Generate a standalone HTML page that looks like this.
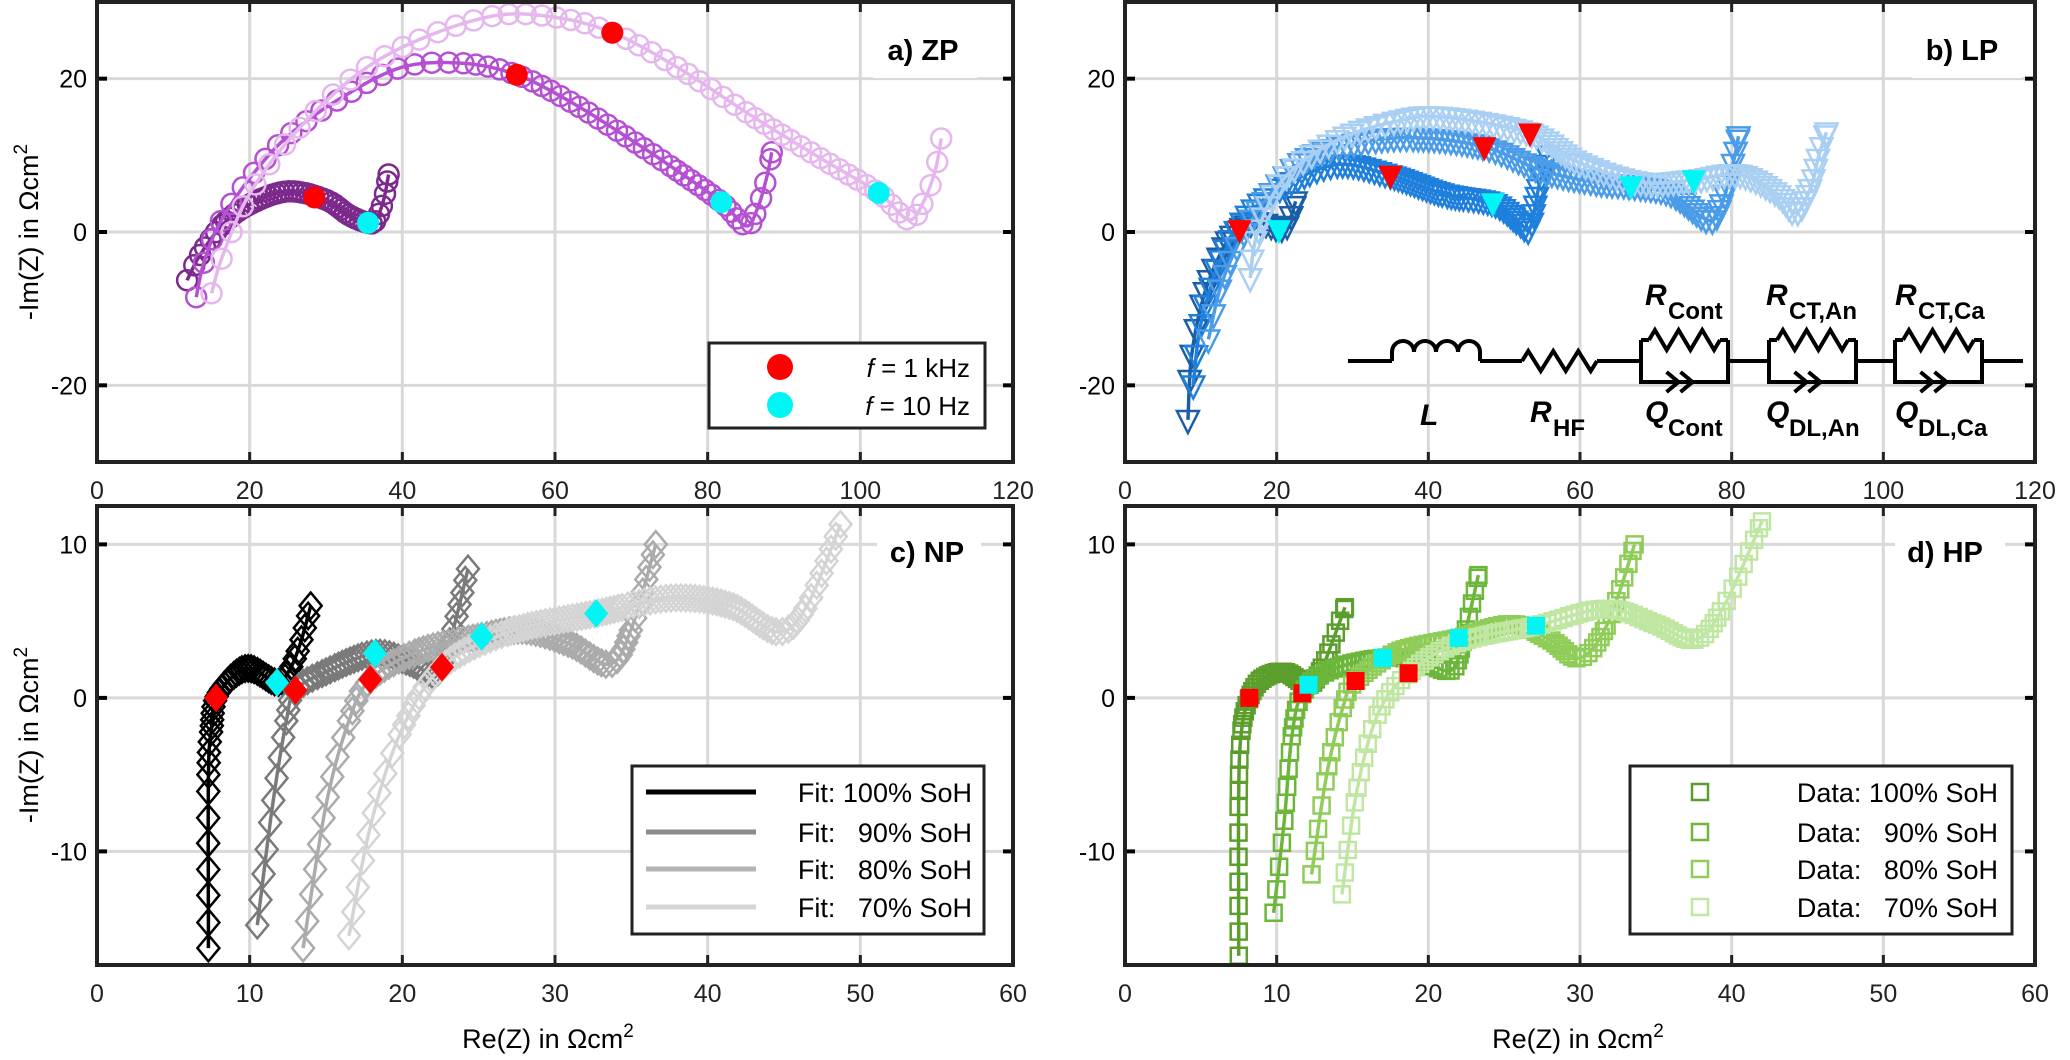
<!DOCTYPE html>
<html><head><meta charset="utf-8">
<style>
html,body{margin:0;padding:0;background:#fff;}
svg text{font-family:"Liberation Sans",Arial,sans-serif;}
</style></head>
<body>
<svg id="s" xmlns="http://www.w3.org/2000/svg" width="2070" height="1055" viewBox="0 0 2070 1055"></svg>
<script>
var out=[];
function P(L,R,T,B,x0,x1,y0,y1){return {L:L,R:R,T:T,B:B,x0:x0,x1:x1,y0:y0,y1:y1,
 X:function(x){return L+(x-x0)/(x1-x0)*(R-L);},Y:function(y){return B-(y-y0)/(y1-y0)*(B-T);}};}
var A=P(97,1013,2,462,0,120,-30,30), Bp=P(1125,2035,2,462,0,120,-30,30),
    C=P(97,1013,506,965,0,60,-17.4,12.5), D=P(1125,2035,506,965,0,60,-17.4,12.5);
function axes(p,xt,yt){
 var i;
 for(i=0;i<xt.length;i++){var x=p.X(xt[i]);
  if(xt[i]>p.x0&&xt[i]<p.x1) out.push('<line x1="'+x+'" y1="'+p.T+'" x2="'+x+'" y2="'+p.B+'" stroke="#d9d9d9" stroke-width="3"/>');}
 for(i=0;i<yt.length;i++){var y=p.Y(yt[i]);
  out.push('<line x1="'+p.L+'" y1="'+y+'" x2="'+p.R+'" y2="'+y+'" stroke="#d9d9d9" stroke-width="3"/>');}
}
function frame(p,xt,yt){
 var i,s='';
 for(i=0;i<xt.length;i++){var x=p.X(xt[i]);
  s+='<line x1="'+x+'" y1="'+p.B+'" x2="'+x+'" y2="'+(p.B-10)+'" stroke="#222" stroke-width="3"/>';
  s+='<line x1="'+x+'" y1="'+p.T+'" x2="'+x+'" y2="'+(p.T+10)+'" stroke="#222" stroke-width="3"/>';
  s+='<text x="'+x+'" y="'+(p.B+37)+'" font-size="25" text-anchor="middle" fill="#222">'+xt[i]+'</text>';}
 for(i=0;i<yt.length;i++){var y=p.Y(yt[i]);
  s+='<line x1="'+p.L+'" y1="'+y+'" x2="'+(p.L+10)+'" y2="'+y+'" stroke="#000" stroke-width="4"/>';
  s+='<line x1="'+p.R+'" y1="'+y+'" x2="'+(p.R-10)+'" y2="'+y+'" stroke="#000" stroke-width="4"/>';
  s+='<text x="'+(p.L-10)+'" y="'+(y+9)+'" font-size="25" text-anchor="end" fill="#000">'+yt[i]+'</text>';}
 s+='<rect x="'+p.L+'" y="'+p.T+'" width="'+(p.R-p.L)+'" height="'+(p.B-p.T)+'" fill="none" stroke="#222" stroke-width="4"/>';
 out.push(s);
}
function cr(pts,p,mul){
 var P2=pts.map(function(q){return [p.X(q[0]),p.Y(q[1]),(q[2]||5)*mul];});
 var res=[];
 for(var i=0;i<P2.length-1;i++){
  var p0=P2[Math.max(0,i-1)],p1=P2[i],p2=P2[i+1],p3=P2[Math.min(P2.length-1,i+2)];
  for(var k=0;k<40;k++){var t=k/40,t2=t*t,t3=t2*t;
   var x=0.5*((2*p1[0])+(-p0[0]+p2[0])*t+(2*p0[0]-5*p1[0]+4*p2[0]-p3[0])*t2+(-p0[0]+3*p1[0]-3*p2[0]+p3[0])*t3);
   var y=0.5*((2*p1[1])+(-p0[1]+p2[1])*t+(2*p0[1]-5*p1[1]+4*p2[1]-p3[1])*t2+(-p0[1]+3*p1[1]-3*p2[1]+p3[1])*t3);
   res.push([x,y,p1[2]]);}
 }
 var l=P2[P2.length-1];res.push([l[0],l[1],5]);
 return res;
}
function mk(type,x,y,col,fill,sz){
 var f=fill?fill:'none',sw=fill?0:2.5;
 if(type=='o')return '<circle cx="'+x.toFixed(1)+'" cy="'+y.toFixed(1)+'" r="'+sz+'" fill="'+f+'" stroke="'+col+'" stroke-width="'+sw+'"/>';
 var pts;
 if(type=='v')pts=[[x-sz,y-sz*0.8],[x+sz,y-sz*0.8],[x,y+sz*1.2]];
 if(type=='d')pts=[[x,y-sz*1.2],[x+sz,y],[x,y+sz*1.2],[x-sz,y]];
 if(type=='s')pts=[[x-sz,y-sz],[x+sz,y-sz],[x+sz,y+sz],[x-sz,y+sz]];
 return '<polygon points="'+pts.map(function(q){return q[0].toFixed(1)+','+q[1].toFixed(1);}).join(' ')+'" fill="'+f+'" stroke="'+col+'" stroke-width="'+sw+'"/>';
}
function series(p,pts,col,type,sz,mul){
 var d=cr(pts,p,mul||1),s='',acc=1e9;
 var path='M'+d.map(function(q){return q[0].toFixed(1)+','+q[1].toFixed(1);}).join('L');
 for(var i=0;i<d.length;i++){
  if(i>0)acc+=Math.hypot(d[i][0]-d[i-1][0],d[i][1]-d[i-1][1]);
  if(acc>=d[i][2]||i==d.length-1){s+=mk(type,d[i][0],d[i][1],col,null,sz);acc=0;}
 }
 out.push(s);
 out.push('<path d="'+path+'" fill="none" stroke="'+col+'" stroke-width="3.5"/>');
}
function hl(p,pts,type,col,sz){var s='';pts.forEach(function(q){s+=mk(type,p.X(q[0]),p.Y(q[1]),col,col,sz);});out.push(s);}

axes(A,[0,20,40,60,80,100,120],[-20,0,20]);
axes(Bp,[0,20,40,60,80,100,120],[-20,0,20]);
axes(C,[0,10,20,30,40,50,60],[-10,0,10]);
axes(D,[0,10,20,30,40,50,60],[-10,0,10]);

series(A,[[11.8,-6.3,16],[13.5,-3,9],[16.5,1,5],[20,3.6,4],[25,5.3,4],[30,4.2,4],[33,2.2,4],[35.5,1.2,4],[36.5,1.5,8],[37.5,4,12],[38.2,7.5]],'#7b2a8c','o',10);
series(A,[[13,-8.5,18],[14,-4,12],[16,1,10],[20,7,9],[25,12.5,9],[32,17.5,8],[40,21.5,8],[48,22,6],[55,20.5,5],[62,17,5],[70,12,5],[76,8,4],[81.8,3.9,4],[85,0.8,5],[86.5,3,8],[87.7,7,12],[88.4,10.4]],'#b550d3','o',10,2);
series(A,[[15,-8,18],[16.5,-3,14],[20,5,12],[26,13,11],[34,20.5,10],[42,25,9],[52,28.2,8],[60,28,7],[67.5,26,7],[76,21.5,6],[86,15,5],[95,9.5,5],[102.4,5.1,5],[106.3,1.6,6],[108.3,4,10],[109.8,8,12],[110.6,12.2]],'#e6b6ef','o',10,2);
hl(A,[[28.5,4.5],[55,20.5],[67.5,26]],'o','#ff0000',11);
hl(A,[[35.5,1.2],[81.8,3.9],[102.4,5.1]],'o','#00f5f5',11);

series(Bp,[[8.3,-24.5,40],[8.8,-16,25],[10.5,-8,12],[13,-2,7],[15,0.3,5],[17.5,1.3,5],[20.3,0.5,6],[21.5,1,10],[22.5,4]],'#1b5ea8','v',11);
series(Bp,[[9,-20,30],[10,-12,18],[12.5,-4,10],[16,2,8],[21,6,6],[28,8.8,5],[35,7.4,4],[42,5,4],[48.5,3.8,4],[52,1.2,5],[53.4,0.5,8],[54.6,6,12],[55.7,10]],'#1f7fdc','v',11);
series(Bp,[[11,-14,25],[13,-6,14],[17,2,10],[23,9,8],[30,11.5,6],[38,12.3,5],[47.4,11.1,5],[55,8,5],[62,6.5,5],[66.7,6,5],[72,5,5],[77,1.5,6],[78.8,4,10],[80.2,9,12],[80.9,12.5]],'#4a9ce8','v',11);
series(Bp,[[16.5,-6,18],[17.5,0,12],[21,7,10],[28,12,8],[36,14.5,6],[42,15,5],[53.4,12.9,5],[60,9,5],[68,6.5,5],[75,6.8,5],[81,7.5,5],[86,5,5],[88.5,2.5,6],[90.5,6,10],[91.5,10,12],[92.5,13]],'#a9cff2','v',11);
hl(Bp,[[15.1,0.3],[35,7.4],[47.4,11.1],[53.4,12.9]],'v','#ff0000',12);
hl(Bp,[[20.3,0.3],[48.5,3.8],[66.7,6],[75,6.8]],'v','#00f5f5',12);

series(C,[[7.3,-16.3,24],[7.3,-5,10],[7.5,-2,6],[7.8,0,4],[9,1.5,3],[10.1,1.9,3],[11.8,1,4],[12.6,1.8,8],[13.3,3.5,12],[14,6]],'#000','d',11);
series(C,[[10.5,-14.8,24],[11.5,-7,20],[12.4,-1.5,10],[13,0.5,5],[15,1.7,4],[18.2,2.9,4],[20.5,2.3,4],[22.2,1.6,6],[23.2,4,12],[24.3,8.4]],'#7a7a7a','d',11);
series(C,[[13.5,-16.3,24],[15,-7,20],[16.5,-1.5,10],[17.9,1.2,5],[21,3,4],[25.2,4,4],[28,4.4,4],[31,3.5,4],[33.6,2.2,6],[35,4.5,12],[36.6,10]],'#ababab','d',11);
series(C,[[16.5,-15.5,24],[18,-8,20],[20,-2,10],[22.6,2,5],[27,4.3,4],[32.7,5.5,4],[37.6,6.5,4],[41.5,6,4],[44.6,4.3,6],[46.5,6,12],[48.7,11.3]],'#d4d4d4','d',11);
hl(C,[[7.8,0],[13,0.5],[17.9,1.2],[22.6,2]],'d','#ff0000',12);
hl(C,[[11.8,1],[18.2,2.9],[25.2,4],[32.7,5.5]],'d','#00f5f5',12);

series(D,[[7.5,-16.8,22],[7.5,-6,14],[7.7,-2,6],[8.2,0,4],[9,1.2,3],[10.5,1.7,3],[12.1,0.85,4],[13,2,8],[13.8,4,12],[14.5,5.9]],'#5b9e2c','s',8);
series(D,[[9.8,-14,22],[10.5,-8,16],[11,-2.5,8],[11.7,0.3,5],[13.5,1.8,4],[17,2.6,4],[19.5,2.4,4],[21.5,1.8,6],[22.3,3.8,12],[23.3,8]],'#6cb63a','s',8);
series(D,[[12.3,-11.5,22],[13.3,-5,14],[14.4,-0.5,8],[15.2,1.1,5],[18,3,4],[22,3.9,4],[25.5,4.8,4],[28,3.8,4],[30,2.6,6],[31.8,4.8,12],[33.6,10]],'#8fcc58','s',8);
series(D,[[14.3,-12.8,22],[15.3,-6,14],[16.7,-1,8],[18.7,1.6,5],[22,3.6,4],[27.1,4.7,4],[31.7,5.8,4],[35,4.8,4],[37.6,3.8,6],[39.5,6,12],[42,11.5]],'#c0e7a2','s',8);
hl(D,[[8.2,0],[11.7,0.3],[15.2,1.1],[18.7,1.6]],'s','#ff0000',9);
hl(D,[[12.1,0.85],[17,2.6],[22,3.9],[27.1,4.7]],'s','#00f5f5',9);

frame(A,[0,20,40,60,80,100,120],[-20,0,20]);
frame(Bp,[0,20,40,60,80,100,120],[-20,0,20]);
frame(C,[0,10,20,30,40,50,60],[-10,0,10]);
frame(D,[0,10,20,30,40,50,60],[-10,0,10]);

out.push('<rect x="873" y="20" width="104" height="58" fill="#fff"/><text x="923" y="60" font-size="29" font-weight="bold" text-anchor="middle">a) ZP</text>');
out.push('<rect x="1912" y="20" width="110" height="58" fill="#fff"/><text x="1962" y="60" font-size="29" font-weight="bold" text-anchor="middle">b) LP</text>');
out.push('<rect x="877" y="522" width="104" height="52" fill="#fff"/><text x="927" y="562" font-size="29" font-weight="bold" text-anchor="middle">c) NP</text>');
out.push('<rect x="1895" y="522" width="110" height="52" fill="#fff"/><text x="1945" y="562" font-size="29" font-weight="bold" text-anchor="middle">d) HP</text>');

out.push('<rect x="709" y="343" width="276" height="85" fill="#fff" stroke="#222" stroke-width="3"/>');
out.push('<circle cx="780" cy="367" r="13" fill="#ff0000"/><circle cx="780" cy="405" r="13" fill="#00f5f5"/>');
out.push('<text x="970" y="377" font-size="26" text-anchor="end"><tspan font-style="italic">f</tspan> = 1 kHz</text>');
out.push('<text x="970" y="415" font-size="26" text-anchor="end"><tspan font-style="italic">f</tspan> = 10 Hz</text>');

out.push('<rect x="632" y="766" width="352" height="168" fill="#fff" stroke="#222" stroke-width="3"/>');
var lc=['#000','#8a8a8a','#b4b4b4','#d6d6d6'],lt=['100%','  90%','  80%','  70%'],ry=[792,832,869,907];
for(var i=0;i<4;i++){
 out.push('<line x1="646" y1="'+ry[i]+'" x2="756" y2="'+ry[i]+'" stroke="'+lc[i]+'" stroke-width="5"/>');
 out.push('<text x="972" y="'+(ry[i]+10)+'" font-size="27" text-anchor="end" xml:space="preserve">Fit: '+lt[i]+' SoH</text>');
}
out.push('<rect x="1630" y="766" width="382" height="168" fill="#fff" stroke="#222" stroke-width="3"/>');
var dc=['#5b9e2c','#6cb63a','#8fcc58','#c0e7a2'];
for(var i=0;i<4;i++){
 out.push('<rect x="1692" y="'+(ry[i]-8)+'" width="16" height="16" fill="none" stroke="'+dc[i]+'" stroke-width="2.5"/>');
 out.push('<text x="1998" y="'+(ry[i]+10)+'" font-size="27" text-anchor="end" xml:space="preserve">Data: '+lt[i]+' SoH</text>');
}

var c='<g stroke="#000" stroke-width="4" fill="none">';
c+='<line x1="1348" y1="361" x2="1392" y2="361"/>';
c+='<path d="M1392,361 L1392,352 a11,11 0 0 1 22,0 a11,11 0 0 1 22,0 a11,11 0 0 1 22,0 a11,11 0 0 1 22,0 L1480,361"/>';
c+='<line x1="1480" y1="361" x2="1522" y2="361"/>';
function zig(x0,x1,y){var s='M'+x0+','+y,n=6,w=(x1-x0)/n;for(var k=0;k<n;k++){s+=' L'+(x0+w*(k+0.5))+','+(y+(k%2?10:-10))+' L'+(x0+w*(k+1))+','+y;}return '<path d="'+s+'"/>';}
c+=zig(1522,1597,361);
c+='<line x1="1597" y1="361" x2="1641" y2="361"/>';
[[1641,1728],[1769,1856],[1895,1982]].forEach(function(b,k){
 c+='<path d="M'+b[0]+',340 L'+b[0]+',382 L'+b[1]+',382 L'+b[1]+',340"/>';
 c+='<line x1="'+b[0]+'" y1="340" x2="'+(b[0]+8)+'" y2="340"/>'+zig(b[0]+8,b[1]-8,340)+'<line x1="'+(b[1]-8)+'" y1="340" x2="'+b[1]+'" y2="340"/>';
 var m=(b[0]+b[1])/2;
 c+='<path d="M'+(m-18)+',372 L'+(m-6)+',382 L'+(m-18)+',392 M'+(m-4)+',372 L'+(m+8)+',382 L'+(m-4)+',392"/>';
 if(k<2)c+='<line x1="'+b[1]+'" y1="361" x2="'+[1769,1895][k]+'" y2="361"/>';
});
c+='<line x1="1982" y1="361" x2="2023" y2="361"/></g>';
out.push(c);
function lab(x,y,m,sub){return '<text x="'+x+'" y="'+y+'" font-size="30" font-weight="bold" font-style="italic">'+m+'</text><text x="'+(x+23)+'" y="'+(y+14)+'" font-size="24" font-weight="bold">'+sub+'</text>';}
out.push('<text x="1420" y="425" font-size="30" font-weight="bold" font-style="italic">L</text>');
out.push(lab(1530,422,'R','HF'));
out.push(lab(1645,305,'R','Cont'));out.push(lab(1645,422,'Q','Cont'));
out.push(lab(1766,305,'R','CT,An'));out.push(lab(1766,422,'Q','DL,An'));
out.push(lab(1895,305,'R','CT,Ca'));out.push(lab(1895,422,'Q','DL,Ca'));

function ylab(cy){return '<text transform="translate(38,'+cy+') rotate(-90)" font-size="27" text-anchor="middle">-Im(Z) in Ωcm<tspan dy="-11" font-size="19">2</tspan></text>';}
out.push(ylab(232));out.push(ylab(735));
out.push('<text x="548" y="1048" font-size="27" text-anchor="middle">Re(Z) in Ωcm<tspan dy="-11" font-size="19">2</tspan></text>');
out.push('<text x="1578" y="1048" font-size="27" text-anchor="middle">Re(Z) in Ωcm<tspan dy="-11" font-size="19">2</tspan></text>');

document.getElementById('s').innerHTML=out.join('');
</script>
</body></html>
